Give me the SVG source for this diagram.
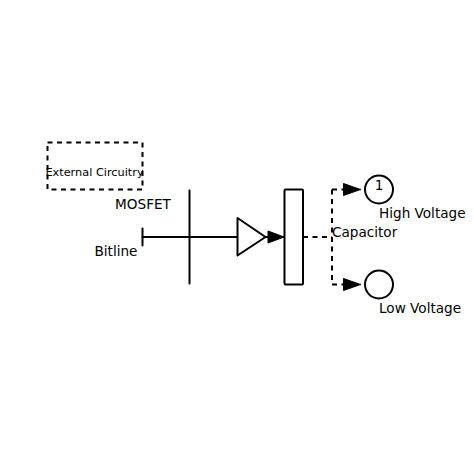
<svg xmlns="http://www.w3.org/2000/svg" width="474" height="474" viewBox="0 0 474 474">
<style>
.s{fill:none;stroke:#000;stroke-width:2;stroke-linecap:round;stroke-linejoin:round}
.d{stroke-dasharray:5 4.500;stroke-linecap:butt}
.n{fill:#fff;stroke:#000;stroke-width:2;stroke-linejoin:round}
.h{fill:#000;stroke:#000;stroke-width:1;stroke-linejoin:round}
text{font-family:"DejaVu Sans",sans-serif;fill:#000;font-size:13.600px}
</style>
<rect width="474" height="474" fill="#fff"/>
<g id="connectors">
<path class="s" d="M142.500 237H237"/>
<path class="s" d="M265.500 237H284"/>
<path class="h" d="M268 231L284 237L268 243Z"/>
<path class="s d" d="M303 237H332"/>
<path class="s d" d="M332 189.500V284.500"/>
<path class="s d" d="M332 189.500H361"/>
<path class="h" d="M343.500 183.500L360.500 189.500L343.500 195.500Z"/>
<path class="s d" d="M332 284.500H361"/>
<path class="h" d="M343.500 278.500L360.500 284.500L343.500 290.500Z"/>
</g>
<g id="external-circuitry">
<rect class="s d" x="47.500" y="142.500" width="95" height="47"/>
<text x="94.500" y="175.500" text-anchor="middle" style="font-size:11.300px">External Circuitry</text>
</g>
<g id="bitline">
<path class="s" d="M142.500 228.500V245.500"/>
<text x="116" y="256" text-anchor="middle">Bitline</text>
</g>
<g id="mosfet">
<path class="s" d="M189.500 190.500V283.500"/>
<text x="143" y="209" text-anchor="middle">MOSFET</text>
</g>
<g id="amplifier">
<path class="n" d="M237.500 218L265.500 237L237.500 255.500Z"/>
</g>
<g id="capacitor">
<rect class="n" x="284.500" y="189.500" width="18.500" height="95" rx="1"/>
<text x="332" y="237">Capacitor</text>
</g>
<g id="high-voltage">
<circle class="n" cx="379" cy="189.500" r="14"/>
<text x="379" y="190" text-anchor="middle">1</text>
<text x="379" y="218">High Voltage</text>
</g>
<g id="low-voltage">
<circle class="n" cx="379" cy="284.500" r="14"/>
<text x="379" y="313">Low Voltage</text>
</g>
</svg>
